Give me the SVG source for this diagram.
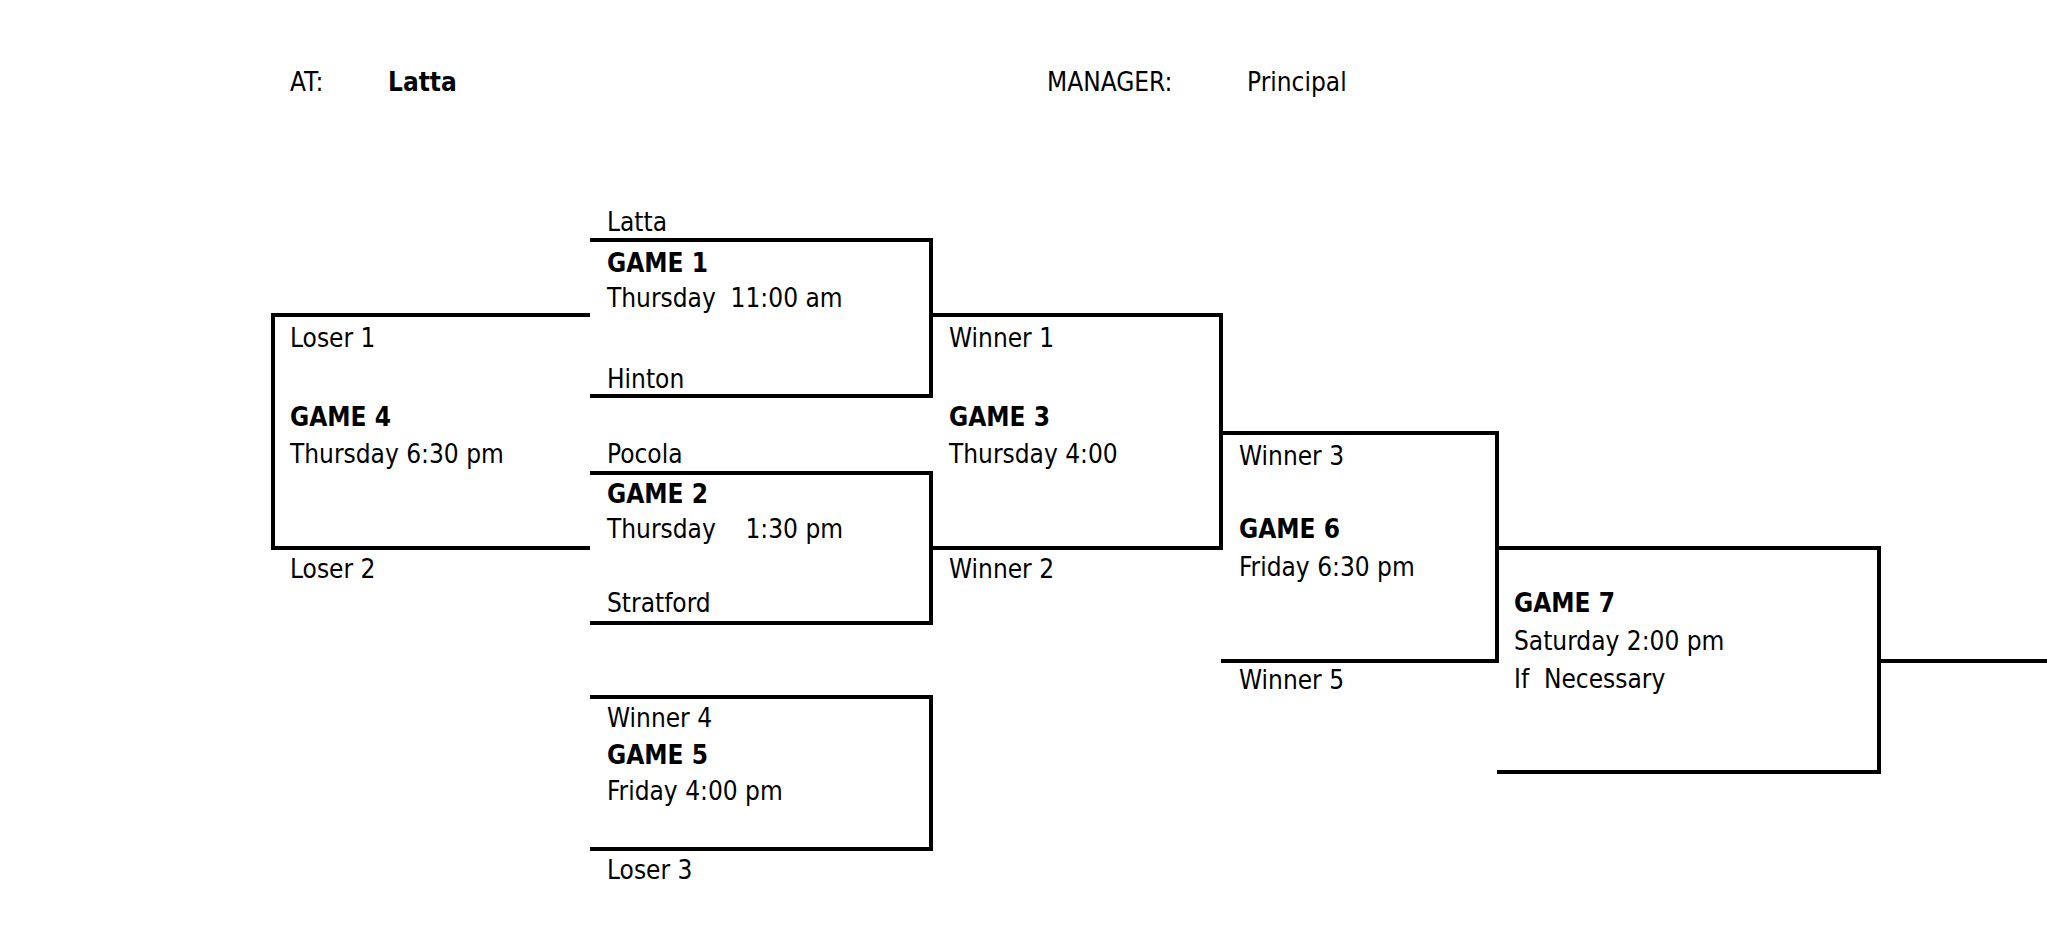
<svg xmlns="http://www.w3.org/2000/svg" width="2047" height="947" viewBox="0 0 2047 947">
<style>
text{font-family:"DejaVu Sans Condensed","DejaVu Sans",sans-serif;font-size:26px;fill:#000;white-space:pre}
.b{font-weight:bold}
.ln{fill:none;stroke:#000;stroke-width:4}
</style>
<rect width="2047" height="947" fill="#fff"/>
<g id="header">
<text x="290" y="91">AT:</text><text x="388" y="91" class="b">Latta</text>
<text x="1047" y="91">MANAGER:</text><text x="1247" y="91">Principal</text>
</g>
<g id="connectors">
<path class="ln" d="M590 240H931V396H590"/>
<path class="ln" d="M590 315H273V548H590"/>
<path class="ln" d="M590 473H931V623H590"/>
<path class="ln" d="M931 315H1221V548H931"/>
<path class="ln" d="M590 697H931V849H590"/>
<path class="ln" d="M1221 433H1497V661H1221"/>
<path class="ln" d="M1497 548H1879V772H1497"/>
<path class="ln" d="M1879 661H2047"/>
</g>
<g id="game1"><text x="607" y="231">Latta</text><text x="607" y="272" class="b">GAME 1</text><text x="607" y="307">Thursday  11:00 am</text><text x="607" y="388">Hinton</text></g>
<g id="game4"><text x="290" y="347">Loser 1</text><text x="290" y="426" class="b">GAME 4</text><text x="290" y="463">Thursday 6:30 pm</text><text x="290" y="578">Loser 2</text></g>
<g id="game2"><text x="607" y="463">Pocola</text><text x="607" y="503" class="b">GAME 2</text><text x="607" y="538">Thursday    1:30 pm</text><text x="607" y="612">Stratford</text></g>
<g id="game5"><text x="607" y="727">Winner 4</text><text x="607" y="764" class="b">GAME 5</text><text x="607" y="800">Friday 4:00 pm</text><text x="607" y="879">Loser 3</text></g>
<g id="game3"><text x="949" y="347">Winner 1</text><text x="949" y="426" class="b">GAME 3</text><text x="949" y="463">Thursday 4:00</text><text x="949" y="578">Winner 2</text></g>
<g id="game6"><text x="1239" y="465">Winner 3</text><text x="1239" y="538" class="b">GAME 6</text><text x="1239" y="576">Friday 6:30 pm</text><text x="1239" y="689">Winner 5</text></g>
<g id="game7"><text x="1514" y="612" class="b">GAME 7</text><text x="1514" y="650">Saturday 2:00 pm</text><text x="1514" y="688">If  Necessary</text></g>
</svg>
